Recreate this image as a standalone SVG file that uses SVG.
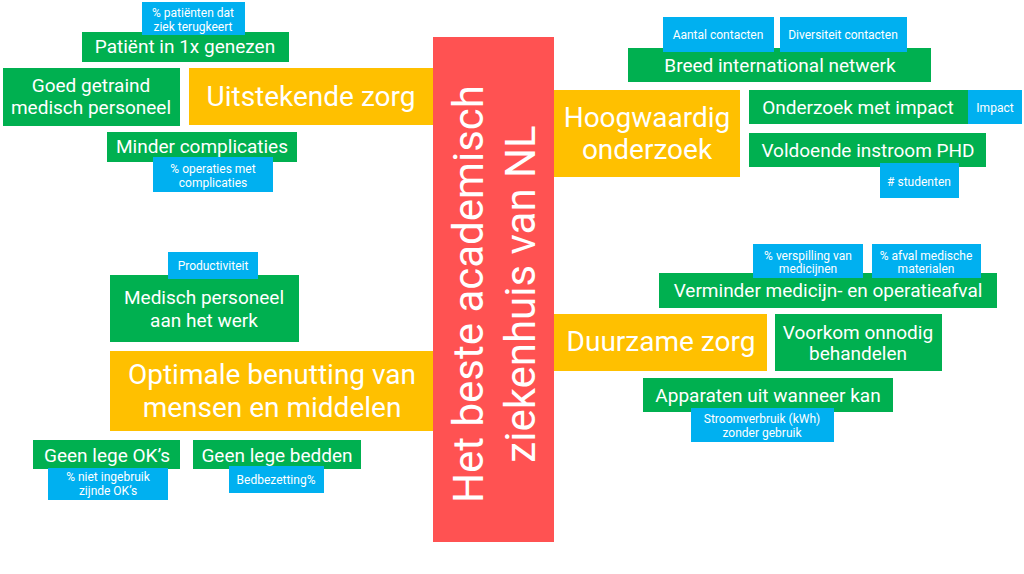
<svg xmlns="http://www.w3.org/2000/svg" width="1024" height="574" viewBox="0 0 1024 574">
<style>
text{font-family:Roboto,"Liberation Sans",sans-serif;fill:#fff;text-anchor:middle}
.r{fill:#FF5252}
.o{fill:#FFC000}
.g{fill:#00B050}
.b{fill:#00B0F0}
.to{font-size:28px}
.tg{font-size:19px}
.tb{font-size:12px}
.tc{font-size:42px}
</style>
<rect width="1024" height="574" fill="#fff"/>
<g id="connectors"/>

<g id="uitstekende-zorg"><rect class="o" x="189" y="68" width="245" height="57"/><text class="to" x="311" y="106">Uitstekende zorg</text></g>
<g id="hoogwaardig-onderzoek"><rect class="o" x="553" y="90" width="187" height="87"/><text class="to" x="647" y="127">Hoogwaardig</text><text class="to" x="647" y="159">onderzoek</text></g>
<g id="optimale-benutting"><rect class="o" x="110" y="351" width="324" height="80"/><text class="to" x="272" y="384">Optimale benutting van</text><text class="to" x="272" y="417">mensen en middelen</text></g>
<g id="duurzame-zorg"><rect class="o" x="553" y="314" width="214" height="57"/><text class="to" x="661" y="351">Duurzame zorg</text></g>

<g id="center"><rect class="r" x="433" y="37" width="121" height="505"/><g transform="translate(483,294) rotate(-90)"><text class="tc" x="0" y="0">Het beste academisch</text><text class="tc" x="0" y="52">ziekenhuis van NL</text></g></g>

<g id="patient-genezen"><rect class="g" x="82" y="32" width="207" height="30"/><text class="tg" x="185" y="53">Patiënt in 1x genezen</text></g>
<g id="goed-getraind"><rect class="g" x="3" y="68" width="177" height="58"/><text class="tg" x="91" y="92">Goed getraind</text><text class="tg" x="91" y="114">medisch personeel</text></g>
<g id="minder-complicaties"><rect class="g" x="107" y="132" width="190" height="30"/><text class="tg" x="202" y="153">Minder complicaties</text></g>
<g id="breed-netwerk"><rect class="g" x="628" y="48" width="303" height="34"/><text class="tg" x="780" y="71.5">Breed international netwerk</text></g>
<g id="onderzoek-impact"><rect class="g" x="749" y="90" width="219" height="34"/><text class="tg" x="858" y="114">Onderzoek met impact</text></g>
<g id="instroom-phd"><rect class="g" x="749" y="133" width="237" height="34"/><text class="tg" x="868" y="156.5">Voldoende instroom PHD</text></g>
<g id="medisch-personeel-werk"><rect class="g" x="110" y="275" width="189" height="67"/><text class="tg" x="204" y="304">Medisch personeel</text><text class="tg" x="204" y="326.5">aan het werk</text></g>
<g id="geen-lege-oks"><rect class="g" x="33" y="440" width="147" height="29"/><text class="tg" x="107" y="461.5">Geen lege OK’s</text></g>
<g id="geen-lege-bedden"><rect class="g" x="193" y="440" width="168" height="29"/><text class="tg" x="277" y="461.5">Geen lege bedden</text></g>
<g id="verminder-afval"><rect class="g" x="659" y="273" width="338" height="35"/><text class="tg" x="828" y="297">Verminder medicijn- en operatieafval</text></g>
<g id="voorkom-onnodig"><rect class="g" x="775" y="314" width="167" height="57"/><text class="tg" x="858" y="339">Voorkom onnodig</text><text class="tg" x="858" y="360">behandelen</text></g>
<g id="apparaten-uit"><rect class="g" x="643" y="378" width="250" height="34"/><text class="tg" x="768" y="401.5">Apparaten uit wanneer kan</text></g>

<g id="kpi-terugkeert"><rect class="b" x="142" y="2" width="103" height="33"/><text class="tb" x="193" y="17">% patiënten dat</text><text class="tb" x="193" y="31">ziek terugkeert</text></g>
<g id="kpi-operaties"><rect class="b" x="153" y="157" width="120" height="35"/><text class="tb" x="213" y="172.5">% operaties met</text><text class="tb" x="213" y="187">complicaties</text></g>
<g id="kpi-aantal"><rect class="b" x="663" y="17" width="111" height="35"/><text class="tb" x="718" y="39">Aantal contacten</text></g>
<g id="kpi-diversiteit"><rect class="b" x="780" y="17" width="127" height="35"/><text class="tb" x="843" y="39">Diversiteit contacten</text></g>
<g id="kpi-impact"><rect class="b" x="968" y="90" width="54" height="34"/><text class="tb" x="995" y="111.5">Impact</text></g>
<g id="kpi-studenten"><rect class="b" x="880" y="163" width="79" height="35"/><text class="tb" x="919" y="185.5">#&#160;studenten</text></g>
<g id="kpi-productiviteit"><rect class="b" x="168" y="252" width="90" height="27"/><text class="tb" x="213" y="270">Productiviteit</text></g>
<g id="kpi-oks"><rect class="b" x="48" y="468" width="120" height="32"/><text class="tb" x="108" y="481">% niet ingebruik</text><text class="tb" x="108" y="495">zijnde OK’s</text></g>
<g id="kpi-bedbezetting"><rect class="b" x="229" y="466" width="95" height="27"/><text class="tb" x="276" y="484">Bedbezetting%</text></g>
<g id="kpi-verspilling"><rect class="b" x="753" y="244" width="110" height="34"/><text class="tb" x="808" y="259.5">% verspilling van</text><text class="tb" x="808" y="272.5">medicijnen</text></g>
<g id="kpi-afval"><rect class="b" x="872" y="244" width="109" height="34"/><text class="tb" x="926" y="259.5">% afval medische</text><text class="tb" x="926" y="272.5">materialen</text></g>
<g id="kpi-stroom"><rect class="b" x="691" y="408" width="143" height="34"/><text class="tb" x="762" y="422.5">Stroomverbruik (kWh)</text><text class="tb" x="762" y="436.5">zonder gebruik</text></g>
</svg>
